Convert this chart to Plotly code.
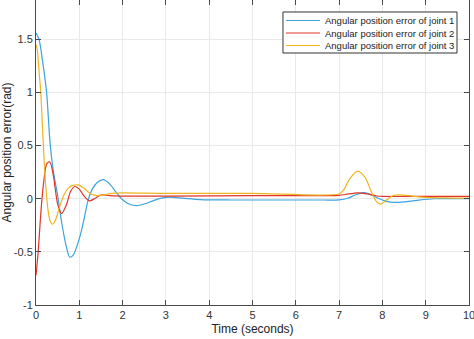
import plotly.graph_objects as go

# Time samples (s) and angular position errors (rad) for each joint
t_joint1 = [0, 0.07, 0.15, 0.245, 0.32, 0.4, 0.5, 0.6, 0.7, 0.78, 0.86, 0.95, 1.05, 1.12, 1.2, 1.3, 1.42, 1.55, 1.7, 1.85, 2.0, 2.15, 2.32, 2.5, 2.7, 2.9, 3.1, 3.4, 3.8, 4.5, 5.5, 6.5, 7.0, 7.2, 7.4, 7.55, 7.7, 7.9, 8.1, 8.27, 8.5, 8.8, 9.2, 10]
err_joint1 = [1.56, 1.5, 1.3, 1.0, 0.55, 0.26, 0.03, -0.24, -0.45, -0.55, -0.53, -0.44, -0.3, -0.17, -0.02, 0.09, 0.155, 0.18, 0.14, 0.06, -0.01, -0.05, -0.065, -0.05, -0.02, 0.005, 0.015, 0.005, -0.008, -0.012, -0.012, -0.012, -0.01, 0.005, 0.04, 0.057, 0.045, 0.005, -0.025, -0.035, -0.03, -0.015, 0.0, 0.0]

t_joint2 = [0, 0.05, 0.1, 0.15, 0.2, 0.25, 0.32, 0.4, 0.5, 0.59, 0.7, 0.8, 0.9, 1.0, 1.1, 1.23, 1.35, 1.5, 1.7, 2.0, 3.0, 5.0, 7.0, 7.15, 7.43, 7.65, 7.85, 8.0, 9.0, 10]
err_joint2 = [-0.72, -0.5, -0.2, 0.05, 0.23, 0.33, 0.345, 0.22, -0.05, -0.14, -0.06, 0.07, 0.115, 0.09, 0.03, -0.02, 0.0, 0.035, 0.03, 0.025, 0.025, 0.03, 0.032, 0.04, 0.056, 0.045, 0.028, 0.022, 0.022, 0.022]

t_joint3 = [0, 0.03, 0.07, 0.11, 0.17, 0.22, 0.27, 0.32, 0.38, 0.45, 0.55, 0.65, 0.75, 0.85, 0.98, 1.1, 1.25, 1.4, 1.55, 1.75, 2.0, 3.0, 5.0, 7.0, 7.1, 7.25, 7.43, 7.6, 7.75, 7.85, 7.96, 8.1, 8.25, 8.4, 8.7, 9.0, 10]
err_joint3 = [1.45, 1.4, 1.2, 1.0, 0.5, 0.15, -0.08, -0.2, -0.24, -0.2, -0.07, 0.04, 0.1, 0.125, 0.13, 0.1, 0.05, 0.03, 0.035, 0.05, 0.055, 0.05, 0.05, 0.045, 0.08, 0.19, 0.26, 0.2, 0.06, -0.02, -0.05, -0.01, 0.03, 0.037, 0.025, 0.012, 0.005]

series_names = ["Angular position error of joint 1",
                "Angular position error of joint 2",
                "Angular position error of joint 3"]
series_colors = ["#3BA3DE", "#E0342C", "#EFB51E"]

x_ticks = list(range(0, 11))
y_ticks = [-1, -0.5, 0, 0.5, 1, 1.5]
y_tick_text = ["-1", "-0.5", "0", "0.5", "1", "1.5"]

FONT = "Liberation Sans, Arial"

fig = go.Figure()
for t, e, name, color in zip([t_joint1, t_joint2, t_joint3],
                             [err_joint1, err_joint2, err_joint3],
                             series_names, series_colors):
    fig.add_trace(go.Scatter(x=t, y=e, mode="lines", name=name, showlegend=False,
                             line=dict(color=color, width=1.2, shape="spline", smoothing=0.8)))

axis_common = dict(showgrid=True, gridcolor="#e9e9e9", gridwidth=1,
                   showline=True, linecolor="#4a4a4a", linewidth=1, mirror="ticks",
                   ticks="inside", ticklen=5, tickcolor="#4a4a4a",
                   zeroline=False, ticklabeloverflow="allow",
                   tickfont=dict(family=FONT, size=11, color="#333333"))

# Boxed legend in the upper right corner of the axes (paper coordinates)
box_x0, box_x1, box_y0, box_y1 = 0.5704, 0.9723, 0.8262, 0.9607
row_y = [0.9328, 0.8918, 0.8508]
line_x0, line_x1, text_x = 0.5774, 0.6559, 0.6628

shapes = [dict(type="rect", xref="paper", yref="paper",
               x0=box_x0, x1=box_x1, y0=box_y0, y1=box_y1,
               line=dict(color="#333333", width=1), fillcolor="white", layer="above")]
annotations = []
for yy, name, color in zip(row_y, series_names, series_colors):
    shapes.append(dict(type="line", xref="paper", yref="paper",
                       x0=line_x0, x1=line_x1, y0=yy, y1=yy,
                       line=dict(color=color, width=1.2), layer="above"))
    annotations.append(dict(xref="paper", yref="paper", x=text_x, y=yy,
                            xanchor="left", yanchor="middle", showarrow=False,
                            text=name, font=dict(family=FONT, size=9.5, color="#222222")))

fig.update_layout(
    width=474, height=339,
    margin=dict(l=36, r=5, t=0, b=34),
    paper_bgcolor="white", plot_bgcolor="white",
    xaxis=dict(range=[0, 10], tickvals=x_ticks,
               title=dict(text="Time (seconds)", standoff=4,
                          font=dict(family=FONT, size=12, color="#222222")),
               **axis_common),
    yaxis=dict(range=[-1, 1.87], tickvals=y_ticks, ticktext=y_tick_text,
               title=dict(text="Angular position error(rad)", standoff=4,
                          font=dict(family=FONT, size=12, color="#222222")),
               **axis_common),
    shapes=shapes,
    annotations=annotations,
    showlegend=False,
)

fig.write_html("out.html")
